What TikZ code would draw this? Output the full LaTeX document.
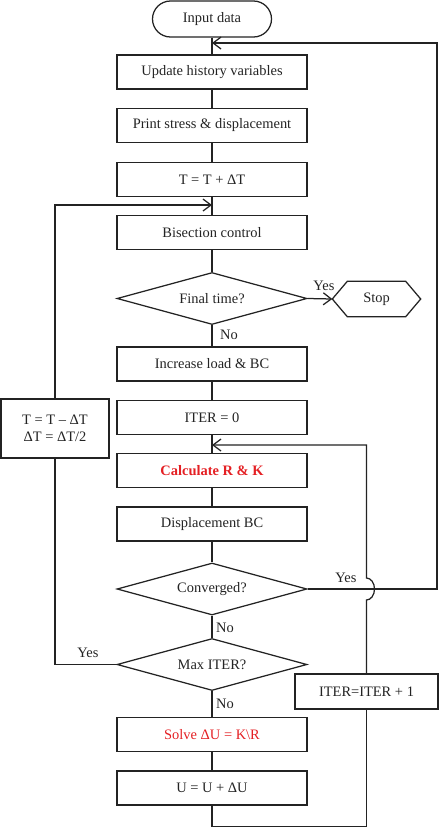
\documentclass[tikz,border=0pt]{standalone}
\usepackage{fontspec}
\setmainfont{Liberation Serif}
\usetikzlibrary{arrows.meta,shapes.geometric}
\definecolor{lc}{RGB}{35,35,35}
\definecolor{rd}{RGB}{228,32,36}
\begin{document}
\begin{tikzpicture}[x=1bp,y=1bp,
  every node/.style={font=\fontsize{14.5}{17.5}\selectfont, text=lc},
  ln/.style={draw=lc, line width=1.25bp},
  >={Straight Barb[length=8bp,width=12bp]},
  procbox/.style={draw=lc, line width=1.25bp, minimum width=190bp, minimum height=34bp, inner sep=0pt},
  termbox/.style={draw=lc, line width=1.25bp, rounded corners=18bp, minimum width=119bp, minimum height=36bp, inner sep=0pt},
  decbox/.style={draw=lc, line width=1.25bp, diamond, aspect=3.65, minimum width=190bp, minimum height=52bp, inner sep=0pt},
  lbl/.style={inner sep=0pt}
]
\useasboundingbox (0,0) rectangle (442,-828);

\node[termbox] (inp) at (212,-19) {Input data};
\node[procbox] (upd) at (212,-72) {Update history variables};
\node[procbox] (prt) at (212,-125.5) {Print stress \& displacement};
\node[procbox] (tinc) at (212,-179.5) {T = T + ΔT};
\node[procbox] (bis) at (212,-232.5) {Bisection control};
\node[decbox] (fin) at (212,-298.5) {Final time?};
\node[inner sep=0pt, minimum width=88bp, minimum height=35bp] (stop) at (376.5,-299) {Stop};
\draw[ln] (stop.west) -- ([xshift=15bp]stop.north west) -- ([xshift=-15bp]stop.north east) -- (stop.east) -- ([xshift=-15bp]stop.south east) -- ([xshift=15bp]stop.south west) -- cycle;
\node[procbox] (inc) at (212,-364) {Increase load \& BC};
\node[procbox] (it0) at (212,-417.5) {ITER = 0};
\node[procbox, text=rd, font=\fontsize{14.5}{17.5}\selectfont\bfseries] (calc) at (212,-470.5) {Calculate R \& K};
\node[procbox] (disp) at (212,-524) {Displacement BC};
\node[decbox] (conv) at (212,-589) {Converged?};
\node[decbox] (maxit) at (212,-664.5) {Max ITER?};
\node[procbox, text=rd] (solve) at (212,-734.5) {Solve ΔU = K\textbackslash R};
\node[procbox] (upd2) at (212,-788) {U = U + ΔU};
\node[procbox, minimum width=143bp, minimum height=35bp] (itinc) at (366.5,-691.5) {ITER=ITER + 1};
\node[procbox, minimum width=108bp, minimum height=59bp, align=center] (tdec) at (55,-428.5) {T = T – ΔT\\ΔT = ΔT/2};

% main vertical flow
\draw[ln] (inp) -- (upd);
\draw[ln] (upd) -- (prt);
\draw[ln] (prt) -- (tinc);
\draw[ln] (tinc) -- (bis);
\draw[ln] (bis) -- (fin);
\draw[ln] (fin) -- (inc);
\draw[ln] (inc) -- (it0);
\draw[ln] (it0) -- (calc);
\draw[ln] (calc) -- (disp);
\draw[ln] (disp) -- (conv);
\draw[ln] (conv) -- (maxit);
\draw[ln] (maxit) -- (solve);
\draw[ln] (solve) -- (upd2);

% Final time -> Stop
\draw[ln,->] (fin.east) -- (stop.west);
\node[lbl] at (324,-286) {Yes};
\node[lbl, anchor=west] at (220,-335) {No};

% Converged yes loop
\coordinate (j1) at (212,-43);
\draw[ln,->] (conv.east) -- (437,-589) -- (437,-43) -- (j1);
\node[lbl] at (346,-578) {Yes};
\node[lbl, anchor=west] at (216,-628) {No};

% Max ITER yes loop
\coordinate (j2) at (212,-205);
\draw[ln] (maxit.west) -| (tdec.south);
\draw[ln,->] (tdec.north) |- (j2);
\node[lbl] at (88,-653) {Yes};
\node[lbl, anchor=west] at (216,-704) {No};

% iteration loop
\coordinate (j3) at (212,-445);
\draw[ln] (upd2.south) -- (212,-826.5) -| (itinc.south);
\draw[ln,->] (itinc.north) -- (366.5,-600) arc[start angle=-90, end angle=90, x radius=8, y radius=11] -- (366.5,-445) -- (j3);
\end{tikzpicture}
\end{document}
